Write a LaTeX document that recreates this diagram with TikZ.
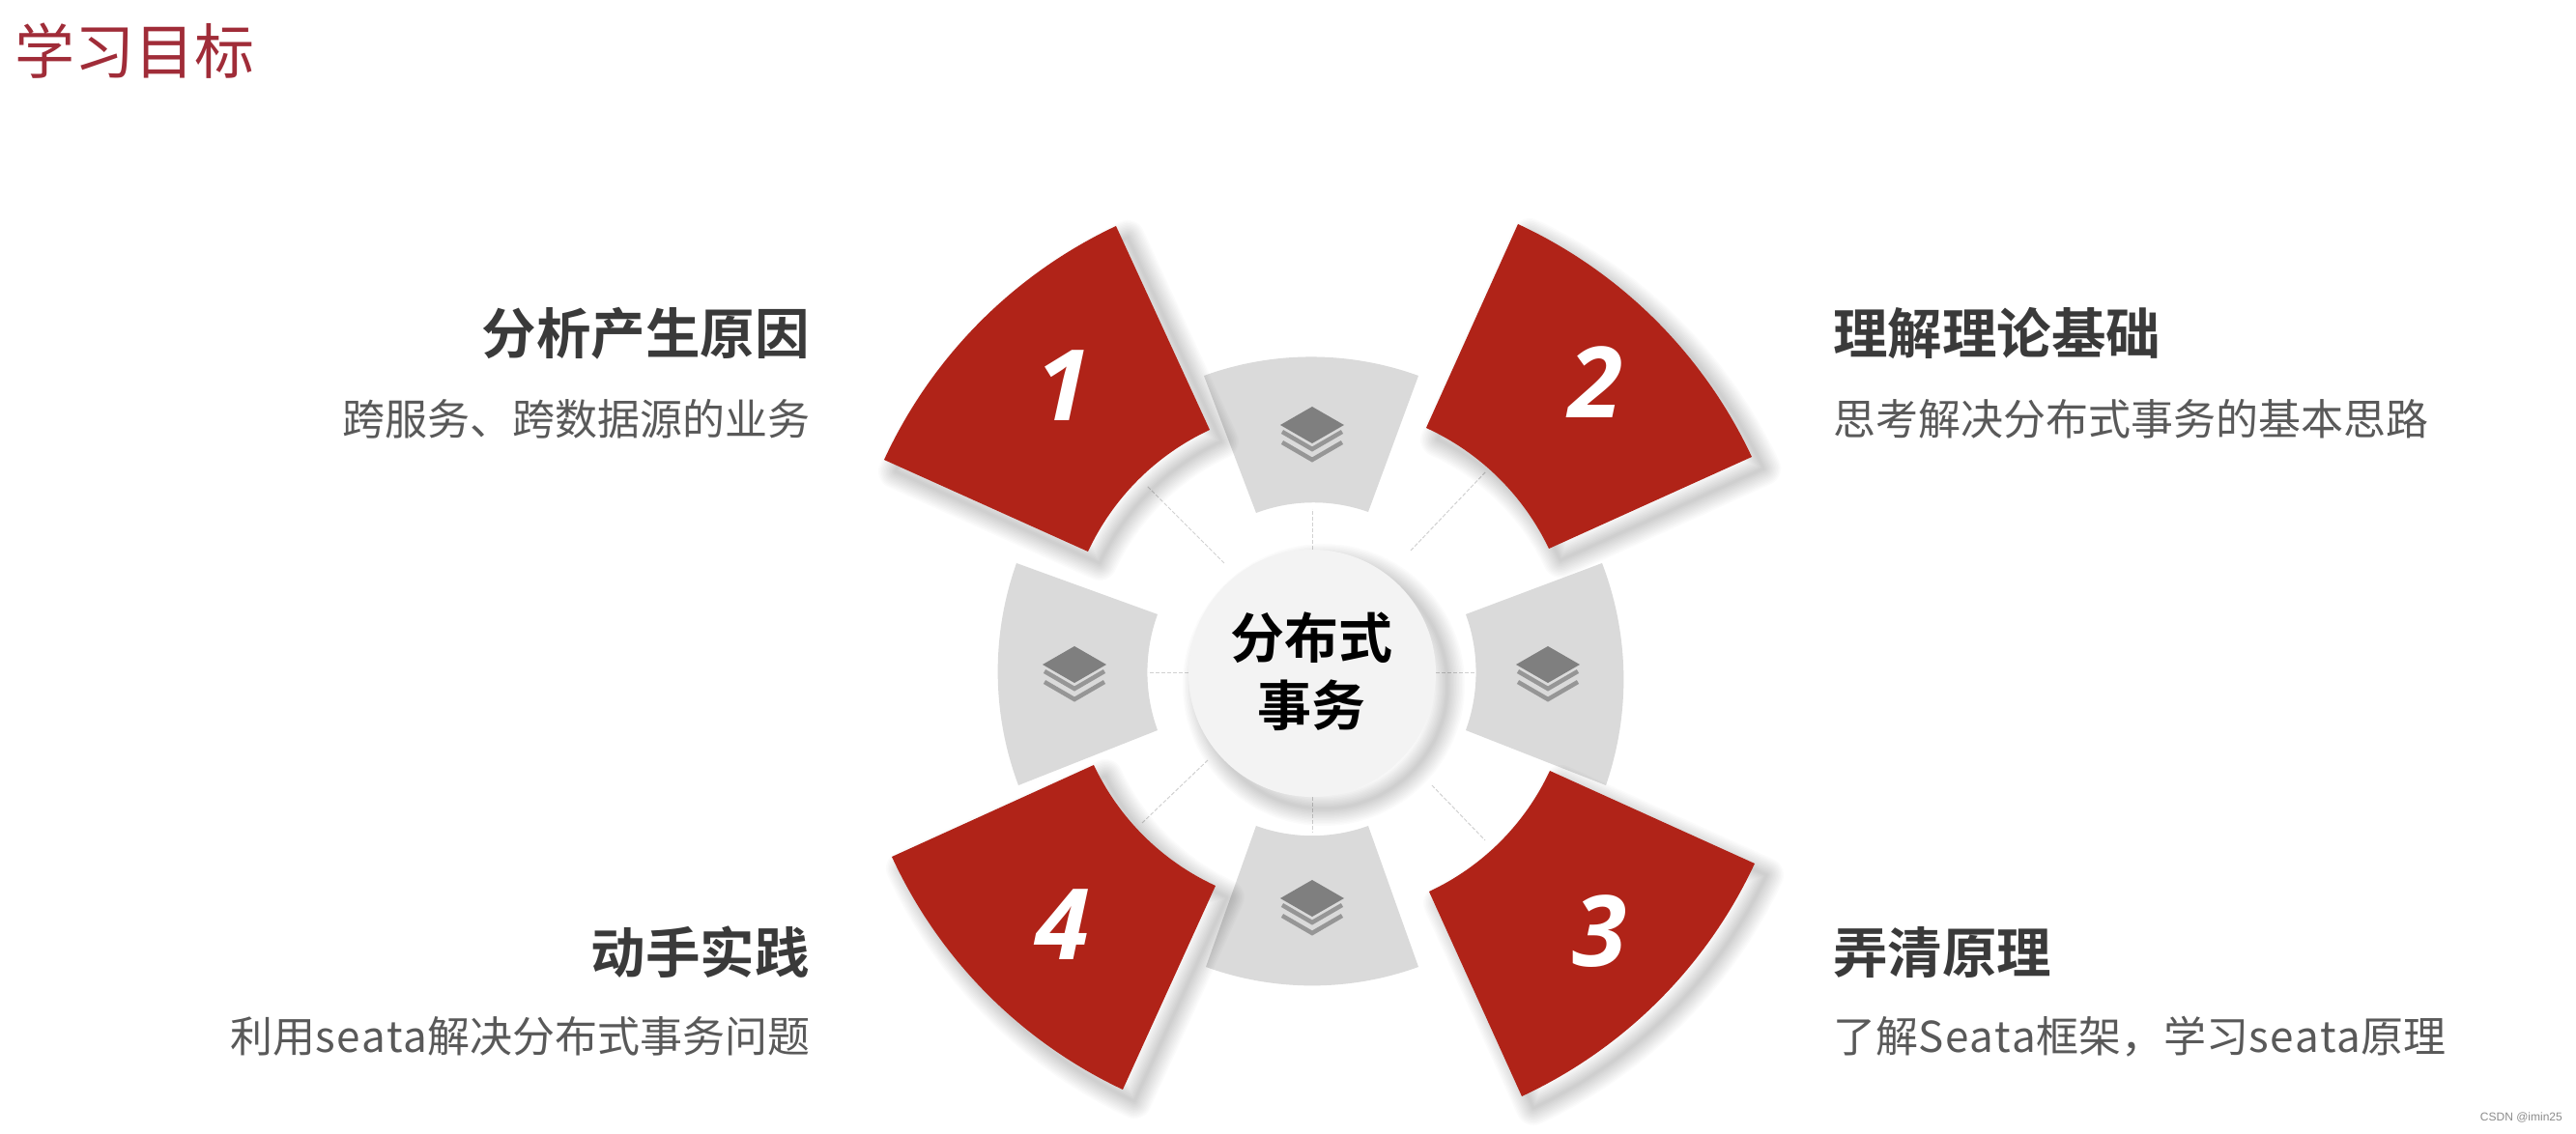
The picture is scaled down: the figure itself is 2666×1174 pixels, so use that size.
\documentclass[tikz,border=0pt]{standalone}
\usepackage{fontspec}
\setmainfont{Noto Sans CJK SC}[BoldFont={Noto Sans CJK SC Bold}]
\newfontfamily\numfont{Open Sans}
\newfontfamily\markfont{Liberation Sans}
\newfontfamily\latinsp{Noto Sans CJK SC}[LetterSpace=4.4]
\definecolor{wred}{HTML}{B02318}
\definecolor{wgray}{HTML}{DADADA}
\definecolor{hubfill}{HTML}{F3F3F3}
\definecolor{titlered}{HTML}{A02C38}
\definecolor{headtxt}{HTML}{3A3A3A}
\definecolor{subtxt}{HTML}{595959}
\definecolor{icondark}{HTML}{7F7F7F}
\definecolor{iconlight}{HTML}{969696}
\newcommand{\softshadow}[1]{%
  \foreach \w in {3,6,...,36}{%
    \draw[black,draw opacity=.017,line width=\w pt,line join=round,xshift=12pt,yshift=-12pt] #1;}}
\newcommand{\wedgepath}[4]{#1 to[bend left=20,looseness=.88] #2 -- #3 to[bend right=20,looseness=.88] #4 -- cycle}
\newcommand{\stackicon}[2]{%
  \begin{scope}[shift={(#1,#2)}]
    \draw[iconlight,line width=4.5pt,line join=miter] (-31,-18) -- (0,-36) -- (31,-18);
    \draw[iconlight,line width=4.5pt,line join=miter] (-31,-7) -- (0,-25) -- (31,-7);
    \fill[icondark] (-33,0) -- (0,19) -- (33,0) -- (0,-19) -- cycle;
  \end{scope}}
\tikzset{
  wedgered/.style={fill=wred},
  wedgegray/.style={fill=wgray},
  spoke/.style={draw=black!18,line width=1pt,dash pattern=on 4pt off 2pt},
  headtext/.style={inner sep=0pt,text=headtxt,font=\fontsize{56.5}{62}\selectfont\bfseries},
  subtext/.style={inner sep=0pt,text=subtxt,font=\fontsize{44}{50}\selectfont},
  numtext/.style={inner sep=0pt,text=white,font=\fontsize{102}{110}\selectfont\numfont\bfseries\itshape},
  hubtext/.style={inner sep=0pt,text=black,align=center,font=\fontsize{56}{70}\selectfont\bfseries},
}
\begin{document}
\begin{tikzpicture}[x=1pt,y=1pt]
\useasboundingbox (-1358,-477) rectangle (1308,697);
\fill[white] (-1358,-477) rectangle (1308,697);
% spokes
\coordinate (s1a) at (0,128); \coordinate (s1b) at (0,170);
\coordinate (s2a) at (0,-128); \coordinate (s2b) at (0,-165);
\coordinate (s3a) at (-128,0); \coordinate (s3b) at (-170,0);
\coordinate (s4a) at (128,0); \coordinate (s4b) at (170,0);
\coordinate (s5a) at (-91,114); \coordinate (s5b) at (-171,194);
\coordinate (s6a) at (102,127); \coordinate (s6b) at (180,209);
\coordinate (s7a) at (-108,-90); \coordinate (s7b) at (-176,-155);
\coordinate (s8a) at (124,-116); \coordinate (s8b) at (179,-173);
\foreach \n in {1,...,8}{\draw[spoke] (s\n a) -- (s\n b);}
% gray wedges
\fill[wedgegray] \wedgepath{(-112,308)}{(110,308)}{(58,167)}{(-58,166)};
\fill[wedgegray] \wedgepath{(110,-304)}{(-110,-304)}{(-58,-158)}{(58,-158)};
\fill[wedgegray] \wedgepath{(-304,-116)}{(-306,114)}{(-160,61)}{(-160,-59)};
\fill[wedgegray] \wedgepath{(300,114)}{(304,-116)}{(159,-59)}{(159,61)};
\stackicon{0}{257}
\stackicon{0}{-233}
\stackicon{-246}{9}
\stackicon{244}{9}
% red wedges
\softshadow{\wedgepath{(-443,221)}{(-203,463)}{(-106,252)}{(-232,126)}}
\softshadow{\wedgepath{(213,465)}{(455,224)}{(245,129)}{(118,254)}}
\softshadow{\wedgepath{(458,-197)}{(217,-438)}{(121,-226)}{(246,-101)}}
\softshadow{\wedgepath{(-196,-431)}{(-435,-190)}{(-226,-95)}{(-100,-220)}}
\fill[wedgered] \wedgepath{(-443,221)}{(-203,463)}{(-106,252)}{(-232,126)};
\fill[wedgered] \wedgepath{(213,465)}{(455,224)}{(245,129)}{(118,254)};
\fill[wedgered] \wedgepath{(458,-197)}{(217,-438)}{(121,-226)}{(246,-101)};
\fill[wedgered] \wedgepath{(-196,-431)}{(-435,-190)}{(-226,-95)}{(-100,-220)};
\node[numtext] (n1) at (-257,298) {1};
\node[numtext] (n2) at (294,301) {2};
\node[numtext] (n3) at (298,-267) {3};
\node[numtext] (n4) at (-258,-260) {4};
% hub
\softshadow{(0,0) circle (128)}
\node[circle,minimum size=256pt,inner sep=0pt,fill=hubfill] (hub) at (0,0) {};
\node[hubtext] (hubt) at (0,2) {分布式\\事务};
% text
\node[inner sep=0pt,anchor=west,text=titlered,font=\fontsize{62}{70}\selectfont] (title) at (-1343,644) {学习目标};
\node[headtext,anchor=east] (h1) at (-520,352) {分析产生原因};
\node[subtext,anchor=east] (t1) at (-519,263) {跨服务、跨数据源的业务};
\node[headtext,anchor=west] (h2) at (539,352) {理解理论基础};
\node[subtext,anchor=west] (t2) at (539,263) {思考解决分布式事务的基本思路};
\node[headtext,anchor=east] (h4) at (-520,-289) {动手实践};
\node[subtext,anchor=east] (t4) at (-519,-376) {利用{\latinsp seata}解决分布式事务问题};
\node[headtext,anchor=west] (h3) at (539,-289) {弄清原理};
\node[subtext,anchor=west] (t3) at (539,-376) {了解{\latinsp Seata}框架，学习{\latinsp seata}原理};
\node[inner sep=0pt,anchor=east,text=black!45,font=\fontsize{12}{14}\selectfont\markfont] (mark) at (1294,-460) {CSDN @imin25};
\end{tikzpicture}
\end{document}
